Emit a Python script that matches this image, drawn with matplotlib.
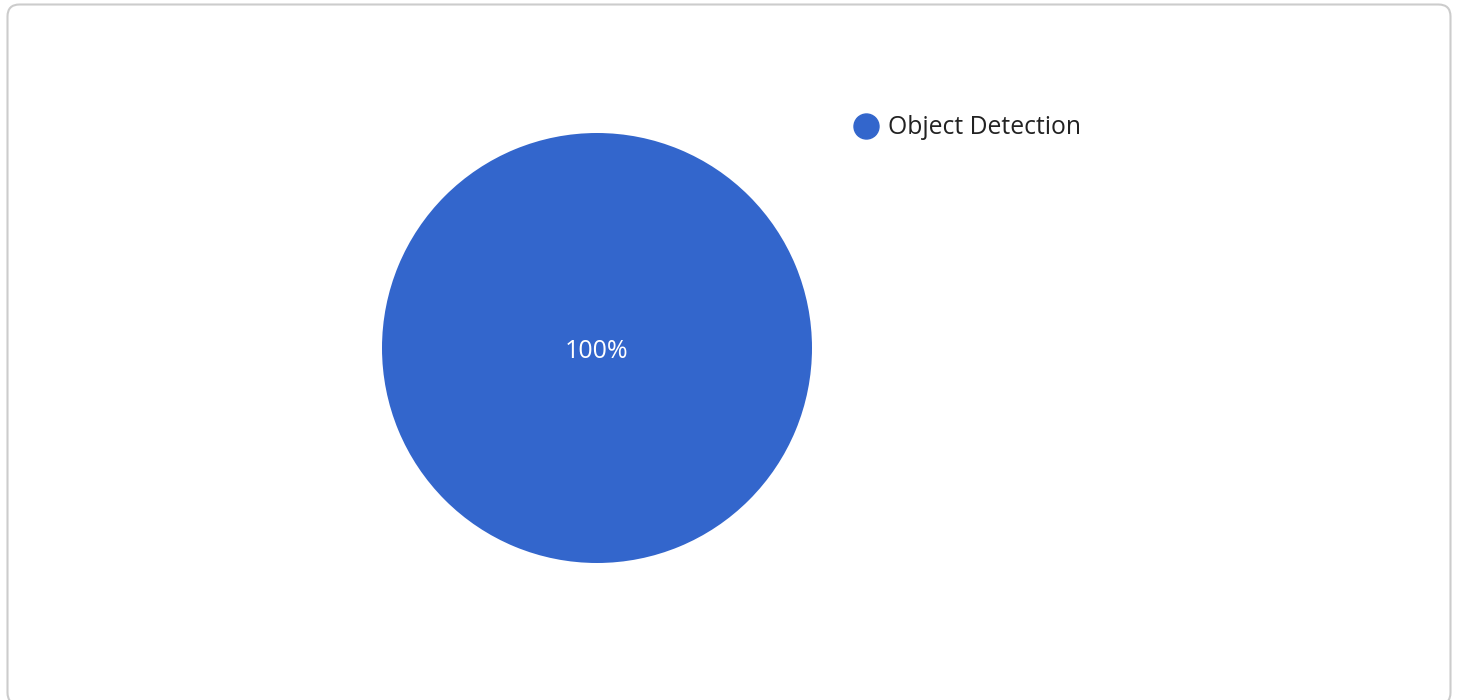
import matplotlib
matplotlib.use("Agg")
import matplotlib.pyplot as plt
from matplotlib.patches import FancyBboxPatch
from matplotlib.lines import Line2D

labels = ["Object Detection"]
values = [100]
colors = ["#3366CC"]

plt.rcParams['font.family'] = ['Open Sans', 'DejaVu Sans']

W, H = 1458, 700
fig = plt.figure(figsize=(W / 100, H / 100), dpi=100)
ax = fig.add_axes([0, 0, 1, 1])

# card border
border = FancyBboxPatch((7.5, 4.5), 1443, 700, boxstyle="round,pad=0,rounding_size=12",
                        facecolor="white", edgecolor="#cccccc", linewidth=1.5,
                        transform=ax.transData, zorder=0)
ax.add_patch(border)

wedges, texts, autotexts = ax.pie(values, colors=colors, center=(597, 348), radius=215,
                                  startangle=90, counterclock=False,
                                  autopct=lambda p: f"{p:.0f}%", pctdistance=0.0,
                                  textprops=dict(color="white", fontsize=18),
                                  wedgeprops=dict(linewidth=0))
for w in wedges:
    w.set_zorder(2)
for t in autotexts:
    t.set_zorder(3)
    t.set_va('center_baseline')

ax.set_xlim(0, W)
ax.set_ylim(H, 0)
ax.set_aspect('equal', adjustable='box')
ax.axis('off')

handles = [Line2D([], [], linestyle='none', marker='o', markersize=18,
                  markerfacecolor=c, markeredgecolor=c) for c in colors]
leg = ax.legend(handles, labels, loc='upper left', bbox_to_anchor=(841 / W, 1 - 103 / H),
                frameon=False, fontsize=17.8, handlelength=1.0, handletextpad=0.4,
                borderpad=0, labelcolor="#222222")

fig.savefig("out.png", dpi=100)
